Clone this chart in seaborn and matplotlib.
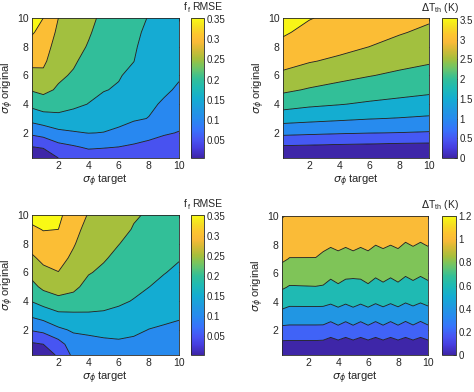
import numpy as np
import matplotlib
matplotlib.use("Agg")
import matplotlib.pyplot as plt
import seaborn as sns
from matplotlib.colors import Normalize, LinearSegmentedColormap
from matplotlib.cm import ScalarMappable

# ---------------- data ----------------
original_rows = [0.25, 1, 2, 3, 4, 5, 6, 7, 8, 9, 10]          # sigma_phi original (y)

# top-left: f_f RMSE
target_rmse_top = [0.25, 1, 2, 3, 4, 5, 6, 7, 8, 9, 10]
rmse_top = [
    [0.010, 0.015, 0.050, 0.055, 0.072, 0.069, 0.067, 0.065, 0.062, 0.055, 0.052],
    [0.048, 0.054, 0.083, 0.094, 0.106, 0.103, 0.099, 0.092, 0.085, 0.077, 0.070],
    [0.110, 0.120, 0.138, 0.146, 0.151, 0.149, 0.142, 0.128, 0.116, 0.105, 0.098],
    [0.167, 0.177, 0.187, 0.182, 0.175, 0.168, 0.162, 0.155, 0.149, 0.125, 0.115],
    [0.213, 0.226, 0.219, 0.209, 0.199, 0.187, 0.178, 0.166, 0.156, 0.146, 0.130],
    [0.254, 0.262, 0.244, 0.227, 0.211, 0.202, 0.196, 0.178, 0.163, 0.155, 0.146],
    [0.286, 0.290, 0.258, 0.245, 0.223, 0.211, 0.203, 0.190, 0.170, 0.160, 0.153],
    [0.312, 0.309, 0.269, 0.256, 0.235, 0.219, 0.209, 0.2006, 0.177, 0.166, 0.156],
    [0.333, 0.322, 0.279, 0.264, 0.247, 0.227, 0.216, 0.205, 0.184, 0.172, 0.160],
    [0.354, 0.336, 0.290, 0.272, 0.254, 0.235, 0.222, 0.209, 0.191, 0.177, 0.163],
    [0.370, 0.350, 0.300, 0.280, 0.258, 0.243, 0.228, 0.213, 0.198, 0.183, 0.167],
]

# bottom-left: f_f RMSE
target_rmse_bottom = [0.25, 1, 2, 3, 4, 5, 6, 7, 8, 9, 10]
rmse_bottom = [
    [0.010, 0.012, 0.060, 0.110, 0.105, 0.115, 0.125, 0.124, 0.119, 0.120, 0.121],
    [0.043, 0.050, 0.079, 0.128, 0.130, 0.137, 0.142, 0.139, 0.132, 0.131, 0.130],
    [0.104, 0.113, 0.141, 0.156, 0.162, 0.166, 0.165, 0.159, 0.149, 0.145, 0.142],
    [0.157, 0.170, 0.187, 0.190, 0.195, 0.194, 0.189, 0.178, 0.167, 0.159, 0.154],
    [0.202, 0.218, 0.237, 0.233, 0.216, 0.212, 0.206, 0.198, 0.184, 0.174, 0.166],
    [0.236, 0.261, 0.271, 0.260, 0.236, 0.227, 0.217, 0.209, 0.2006, 0.188, 0.179],
    [0.266, 0.288, 0.299, 0.275, 0.253, 0.242, 0.229, 0.219, 0.209, 0.202, 0.191],
    [0.293, 0.311, 0.316, 0.291, 0.264, 0.254, 0.240, 0.229, 0.219, 0.212, 0.203],
    [0.318, 0.332, 0.334, 0.304, 0.275, 0.263, 0.251, 0.238, 0.228, 0.223, 0.215],
    [0.342, 0.352, 0.350, 0.314, 0.286, 0.273, 0.259, 0.248, 0.237, 0.233, 0.228],
    [0.366, 0.365, 0.360, 0.325, 0.297, 0.282, 0.267, 0.253, 0.247, 0.244, 0.240],
]

# top-right: Delta T_th (K)
target_dT_top = [0.25, 2, 4, 6, 8, 10]
dT_top = [
    [0.05, 0.04, 0.03, 0.03, 0.02, 0.02],
    [0.42, 0.40, 0.37, 0.35, 0.32, 0.31],
    [1.12, 1.08, 1.04, 1.01, 0.99, 0.96],
    [1.70, 1.64, 1.58, 1.52, 1.48, 1.43],
    [2.20, 2.09, 2.02, 1.94, 1.87, 1.80],
    [2.59, 2.46, 2.34, 2.24, 2.17, 2.10],
    [2.91, 2.76, 2.64, 2.52, 2.42, 2.33],
    [3.16, 3.03, 2.92, 2.76, 2.64, 2.55],
    [3.39, 3.21, 3.12, 3.00, 2.84, 2.72],
    [3.55, 3.39, 3.26, 3.18, 3.04, 2.90],
    [3.57, 3.52, 3.40, 3.34, 3.24, 3.07],
]

# bottom-right: Delta T_th (K)  (jagged contours on the right half)
target_dT_bottom = [0.25, 0.75, 2.5, 3.0, 3.5, 4, 4.5, 5, 5.5, 6, 6.5, 7, 7.5, 8, 8.5, 9, 9.5, 10]
dT_bottom = [
    [0.00, 0.00, 0.00, 0.00, 0.00, 0.00, 0.00, 0.00, 0.00, 0.00, 0.00, 0.00, 0.00, 0.00, 0.00, 0.00, 0.00, 0.00],
    [0.152, 0.148, 0.148, 0.143, 0.114, 0.139, 0.114, 0.139, 0.114, 0.139, 0.114, 0.139, 0.114, 0.139, 0.114, 0.139, 0.114, 0.139],
    [0.343, 0.342, 0.342, 0.340, 0.291, 0.341, 0.291, 0.341, 0.291, 0.341, 0.291, 0.341, 0.291, 0.341, 0.291, 0.341, 0.291, 0.341],
    [0.526, 0.504, 0.504, 0.504, 0.477, 0.515, 0.477, 0.515, 0.477, 0.515, 0.475, 0.513, 0.475, 0.513, 0.471, 0.507, 0.471, 0.507],
    [0.685, 0.649, 0.651, 0.649, 0.627, 0.656, 0.627, 0.656, 0.627, 0.656, 0.622, 0.651, 0.622, 0.651, 0.614, 0.642, 0.614, 0.642],
    [0.822, 0.786, 0.793, 0.786, 0.742, 0.776, 0.742, 0.745, 0.742, 0.776, 0.733, 0.766, 0.733, 0.766, 0.723, 0.755, 0.723, 0.755],
    [0.934, 0.892, 0.895, 0.878, 0.844, 0.871, 0.844, 0.835, 0.844, 0.871, 0.834, 0.860, 0.834, 0.860, 0.824, 0.849, 0.824, 0.849],
    [1.025, 0.995, 0.995, 0.965, 0.933, 0.960, 0.933, 0.960, 0.933, 0.960, 0.919, 0.945, 0.919, 0.945, 0.906, 0.931, 0.906, 0.931],
    [1.087, 1.058, 1.055, 1.035, 1.017, 1.032, 1.017, 1.032, 1.017, 1.032, 1.004, 1.022, 1.004, 1.022, 0.988, 1.010, 0.988, 1.010],
    [1.149, 1.119, 1.110, 1.092, 1.083, 1.091, 1.083, 1.091, 1.083, 1.091, 1.077, 1.086, 1.077, 1.086, 1.064, 1.075, 1.064, 1.075],
    [1.210, 1.180, 1.165, 1.150, 1.150, 1.150, 1.150, 1.150, 1.150, 1.150, 1.150, 1.150, 1.150, 1.150, 1.140, 1.140, 1.140, 1.140],
]

levels_rmse = [0.05, 0.10, 0.15, 0.20, 0.25, 0.30, 0.35]
levels_dT_top = [0.5, 1.0, 1.5, 2.0, 2.5, 3.0, 3.5]
levels_dT_bottom = [0.2, 0.4, 0.6, 0.8, 1.0, 1.2]

cticks_rmse = [0.05, 0.10, 0.15, 0.20, 0.25, 0.30, 0.35]
cticklabels_rmse = ["0.05", "0.1", "0.15", "0.2", "0.25", "0.3", "0.35"]
cticks_dT_top = [0, 0.5, 1, 1.5, 2, 2.5, 3, 3.5]
cticklabels_dT_top = ["0", "0.5", "1", "1.5", "2", "2.5", "3", "3.5"]
cticks_dT_bottom = [0, 0.2, 0.4, 0.6, 0.8, 1.0, 1.2]
cticklabels_dT_bottom = ["0", "0.2", "0.4", "0.6", "0.8", "1", "1.2"]

axis_ticks = [2, 4, 6, 8, 10]
axis_ticklabels = ["2", "4", "6", "8", "10"]

# ---------------- style ----------------
sns.set_style("white")
plt.rcParams['font.family'] = ['Liberation Sans', 'DejaVu Sans']
plt.rcParams['mathtext.fontset'] = 'dejavusans'

# parula-like colormap (position, RGB 0-255)
parula_pos = [0.00, 0.07, 0.13, 0.20, 0.27, 0.34, 0.42, 0.50, 0.57, 0.63, 0.67,
              0.71, 0.78, 0.83, 0.88, 0.94, 1.00]
parula_rgb = [(62, 38, 168), (70, 60, 222), (72, 84, 242), (56, 114, 252),
              (40, 136, 240), (32, 152, 226), (20, 172, 210), (30, 186, 180),
              (52, 191, 150), (100, 196, 112), (130, 196, 86), (166, 191, 60),
              (216, 186, 54), (250, 186, 56), (253, 196, 48), (245, 222, 34),
              (249, 251, 20)]
cmap = LinearSegmentedColormap.from_list(
    "parula_like", [(p, tuple(c / 255 for c in rgb)) for p, rgb in zip(parula_pos, parula_rgb)], N=256)
sns.set_palette(sns.color_palette([cmap(v) for v in np.linspace(0, 1, 8)]))

W, H = 474, 392
fig = plt.figure(figsize=(W / 100, H / 100), dpi=100)


def rect(x0, y0, x1, y1):
    return [x0 / W, 1 - y1 / H, (x1 - x0) / W, (y1 - y0) / H]


def fx(px):
    return px / W


def fy(py):
    return 1 - py / H


edge = (0.15, 0.15, 0.15)


def title_rmse(x0, y0):
    # "f" with subscript "f", then "RMSE"  (y0 = baseline, pixels from top)
    fig.text(fx(x0), fy(y0), "f", fontsize=7.5, ha="left", va="baseline", color=edge)
    fig.text(fx(x0 + 3.6), fy(y0 + 2.2), "f", fontsize=5.2, ha="left", va="baseline", color=edge)
    fig.text(fx(x0 + 8.5), fy(y0), "RMSE", fontsize=7.5, ha="left", va="baseline", color=edge)


def title_dT(xc, y0):
    fig.text(fx(xc), fy(y0), "$\\Delta\\mathregular{T_{th}}$ (K)", fontsize=7.5,
             ha="center", va="center", color=edge)


panels = [
    dict(ax=rect(32, 18, 179, 158), cax=rect(191, 18, 204, 158),
         x=target_rmse_top, z=rmse_top, levels=levels_rmse, clim=(0.006, 0.352),
         ct=cticks_rmse, ctl=cticklabels_rmse, title=lambda: title_rmse(184, 10)),
    dict(ax=rect(283, 18, 429, 158), cax=rect(442, 18, 457, 158),
         x=target_dT_top, z=dT_top, levels=levels_dT_top, clim=(0.0, 3.55),
         ct=cticks_dT_top, ctl=cticklabels_dT_top, title=lambda: title_dT(440, 8)),
    dict(ax=rect(32, 215, 179, 355), cax=rect(191, 215, 204, 355),
         x=target_rmse_bottom, z=rmse_bottom, levels=levels_rmse, clim=(0.003, 0.352),
         ct=cticks_rmse, ctl=cticklabels_rmse, title=lambda: title_rmse(184, 207)),
    dict(ax=rect(282, 216, 428, 355), cax=rect(442, 216, 456, 355),
         x=target_dT_bottom, z=dT_bottom, levels=levels_dT_bottom, clim=(0.0, 1.2),
         ct=cticks_dT_bottom, ctl=cticklabels_dT_bottom, title=lambda: title_dT(440, 205)),
]

for p in panels:
    ax = fig.add_axes(p["ax"])
    cax = fig.add_axes(p["cax"])
    Z = np.array(p["z"], dtype=float)
    X, Y = np.meshgrid(p["x"], original_rows)
    lo, hi = p["clim"]
    norm = Normalize(lo, hi)
    bounds = [min(Z.min(), lo) - 1.0] + list(p["levels"]) + [max(Z.max(), p["levels"][-1]) + 1.0]
    fill_colors = [cmap(norm(max(b, lo))) for b in bounds[:-1]]
    ax.contourf(X, Y, Z, levels=bounds, colors=fill_colors, antialiased=True)
    ax.contour(X, Y, Z, levels=p["levels"], colors=[(0.1, 0.1, 0.1)], linewidths=0.6)
    ax.set_xlim(0.25, 10)
    ax.set_ylim(0.25, 10)
    ax.set_xticks(axis_ticks)
    ax.set_xticklabels(axis_ticklabels)
    ax.set_yticks(axis_ticks)
    ax.set_yticklabels(axis_ticklabels)
    ax.tick_params(direction="in", length=2.5, width=0.5, labelsize=7.5,
                   top=True, right=True, colors=edge, pad=2.5)
    for s in ax.spines.values():
        s.set_linewidth(0.6)
        s.set_color(edge)
    ax.set_xlabel("$\\sigma_{\\phi}$ target", fontsize=8, color=edge, labelpad=1)
    ax.set_ylabel("$\\sigma_{\\phi}$ original", fontsize=8, color=edge, labelpad=1)

    sm = ScalarMappable(norm=norm, cmap=cmap)
    cb = fig.colorbar(sm, cax=cax, ticks=p["ct"])
    cb.set_ticklabels(p["ctl"])
    cb.outline.set_linewidth(0.6)
    cb.outline.set_edgecolor(edge)
    cax.tick_params(direction="in", length=2, width=0.5, labelsize=7, colors=edge, pad=2)
    p["title"]()

fig.savefig("out.png", dpi=100)
